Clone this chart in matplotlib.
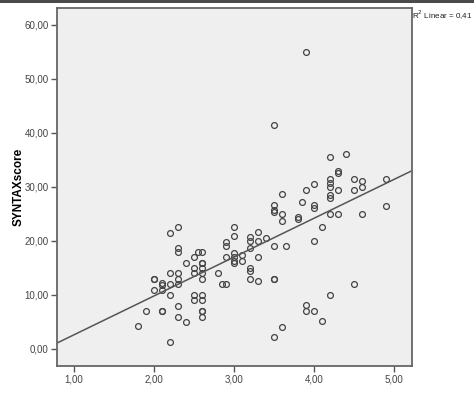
import matplotlib.pyplot as plt
from matplotlib.patches import Rectangle

# values
x_vals = [1.8, 1.9, 2.0, 2.0, 2.0, 2.1, 2.1, 2.1, 2.1, 2.1,
          2.2, 2.2, 2.2, 2.2, 2.2, 2.3, 2.3, 2.3, 2.3, 2.3,
          2.3, 2.3, 2.3, 2.4, 2.4, 2.5, 2.55, 2.5, 2.5, 2.5,
          2.5, 2.6, 2.6, 2.6, 2.6, 2.6, 2.6, 2.6, 2.6, 2.6,
          2.6, 2.6, 2.8, 2.85, 2.9, 2.9, 2.9, 2.9, 3.0, 3.0,
          3.0, 3.0, 3.0, 3.0, 3.1, 3.1, 3.2, 3.2, 3.2, 3.2,
          3.2, 3.2, 3.3, 3.3, 3.3, 3.3, 3.4, 3.5, 3.5, 3.5,
          3.5, 3.5, 3.5, 3.5, 3.5, 3.6, 3.6, 3.6, 3.6, 3.65,
          3.8, 3.8, 3.85, 3.9, 3.9, 3.9, 3.9, 4.0, 4.0, 4.0,
          4.0, 4.0, 4.1, 4.1, 4.2, 4.2, 4.2, 4.2, 4.2, 4.2,
          4.2, 4.2, 4.3, 4.3, 4.3, 4.3, 4.4, 4.5, 4.5, 4.5,
          4.6, 4.6, 4.6, 4.9, 4.9]
y_vals = [4.2, 7, 13, 13, 11, 12.3, 11.9, 11, 7, 7,
          14, 12, 10, 1.2, 21.5, 22.5, 18.6, 18, 14, 13,
          12, 8, 6, 16, 5, 17, 18, 15, 14, 10,
          9, 18, 16, 16, 15, 14, 13, 10, 9, 7,
          7, 6, 14, 12, 12, 17, 19.8, 19, 22.5, 21,
          17.7, 17, 16.2, 16, 17.3, 16.2, 20.7, 20, 18.6, 15,
          14.5, 13, 21.6, 20, 17, 12.5, 20.6, 41.5, 26.7, 25.8,
          25.4, 19, 13, 13, 2.2, 28.6, 25, 23.6, 4, 19,
          24.5, 24, 27.2, 55, 29.5, 8.2, 7, 30.6, 26.6, 26,
          20, 7, 22.6, 5.2, 35.5, 31.5, 30.7, 30, 28.5, 28,
          25, 10, 33, 32.5, 29.5, 25, 36, 31.5, 29.5, 12,
          31, 30, 25, 31.5, 26.5]

# fit line as drawn (slope, intercept)
fit_slope = 7.19
fit_intercept = -4.58
r2_text = 'R$^2$ Linear = 0,41'

x_ticks = [1.0, 2.0, 3.0, 4.0, 5.0]
y_ticks = [0, 10, 20, 30, 40, 50, 60]

plt.rcParams['font.family'] = ['Liberation Sans', 'DejaVu Sans']

fig = plt.figure(figsize=(4.74, 3.93), dpi=100)
ax = fig.add_axes([0.1203, 0.0687, 0.7487, 0.9109])
ax.set_facecolor('#efefef')

# dark strip along the top edge of the screenshot
fig.patches.append(Rectangle((0, 1 - 3 / 393), 1, 3 / 393, transform=fig.transFigure,
                             facecolor='#4a4a4a', edgecolor='none'))

ax.set_xlim(0.79, 5.225)
ax.set_ylim(-3.15, 63.1)

ax.plot(x_vals, y_vals, linestyle='none', marker='o', markersize=4.2,
        markerfacecolor='none', markeredgecolor='#444444', markeredgewidth=0.9)

x0, x1 = ax.get_xlim()
ax.plot([x0, x1], [fit_intercept + fit_slope * x0, fit_intercept + fit_slope * x1],
        color='#555555', linewidth=1.1)

for s in ax.spines.values():
    s.set_color('#666666')
    s.set_linewidth(1.3)

ax.set_xticks(x_ticks)
ax.set_yticks(y_ticks)
ax.set_xticklabels([('%.2f' % v).replace('.', ',') for v in x_ticks])
ax.set_yticklabels([('%.2f' % v).replace('.', ',') for v in y_ticks])
ax.tick_params(direction='out', length=4, width=1, color='#555555',
               labelsize=7, labelcolor='#444444', pad=2, top=False, right=False)

ax.set_ylabel('SYNTAXscore', fontsize=8.5, fontweight='bold', labelpad=0)

fig.text(412 / 474, 1 - 15 / 393, r2_text, fontsize=5.8, ha='left', va='center',
         color='#222222')

fig.savefig('out.png', dpi=100)
